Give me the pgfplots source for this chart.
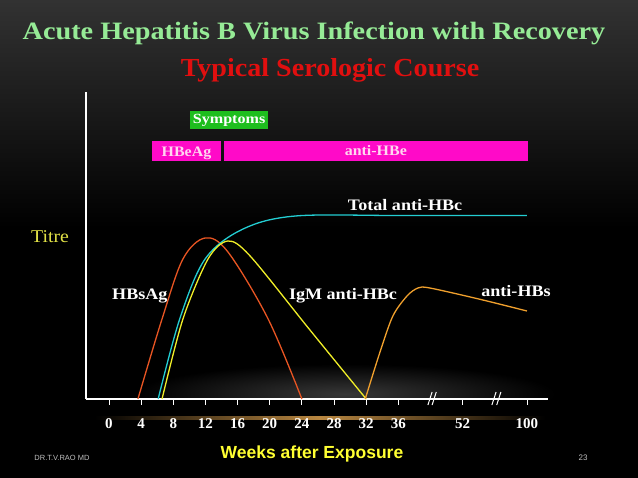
\documentclass[border=0pt]{standalone}
\usepackage{fontspec}
\setmainfont{Liberation Serif}
\setsansfont{Liberation Sans}
\usepackage{pgfplots}
\pgfplotsset{compat=1.18}
\definecolor{titlegreen}{RGB}{150,235,150}
\definecolor{subred}{RGB}{225,15,15}
\definecolor{hbsag}{RGB}{232,85,35}
\definecolor{totalc}{RGB}{35,205,210}
\definecolor{igm}{RGB}{240,238,40}
\definecolor{antihbs}{RGB}{240,160,45}
\definecolor{symgreen}{RGB}{30,190,30}
\definecolor{boxmag}{RGB}{255,10,200}
\definecolor{boxtext}{RGB}{255,215,240}
\definecolor{titreyel}{RGB}{225,225,70}
\definecolor{weeksyel}{RGB}{255,255,50}
\begin{document}
\begin{tikzpicture}
\useasboundingbox (0,0) rectangle (638pt,478pt);
\fill[black] (0,0) rectangle (638pt,478pt);
\shade[top color={rgb,255:red,50;green,50;blue,50}, bottom color=black] (0,250pt) rectangle (638pt,478pt);
\shade[inner color={rgb,255:red,55;green,55;blue,55}, outer color=black] (345pt,84pt) ellipse (210pt and 30pt);
\fill[black] (0,0) rectangle (638pt,78pt);
\shade[left color=black, right color=black, middle color={rgb,255:red,185;green,135;blue,65}] (95pt,58.5pt) rectangle (545pt,61.5pt);
\node[text=titlegreen, xscale=1.13, font=\bfseries\fontsize{25}{25}\selectfont] at (314pt,445pt) {Acute Hepatitis B Virus Infection with Recovery};
\node[text=subred, xscale=1.08, font=\bfseries\fontsize{26}{26}\selectfont] at (330pt,408pt) {Typical Serologic Course};
\node[text=titreyel, xscale=1.1, font=\fontsize{18}{18}\selectfont] at (50pt,241pt) {Titre};
\node[text=weeksyel, font=\sffamily\bfseries\fontsize{17.5}{17.5}\selectfont] at (312pt,24pt) {Weeks after Exposure};
\node[text={rgb,255:red,190;green,190;blue,190}, font=\sffamily\fontsize{7.5}{7.5}\selectfont] at (62pt,20pt) {DR.T.V.RAO MD};
\node[text={rgb,255:red,190;green,190;blue,190}, font=\sffamily\fontsize{8}{8}\selectfont] at (583pt,20pt) {23};
\begin{axis}[
  at={(86pt,79pt)}, anchor=south west,
  scale only axis, width=462pt, height=307pt,
  xmin=-0.715, xmax=13.655, ymin=0, ymax=307,
  axis lines=left,
  axis line style={-, white, line width=1.2pt},
  clip=false,
  xtick={0,1,2,3,4,5,6,7,8,9,11,13},
  xticklabels={0,4,8,12,16,20,24,28,32,36,52,100},
  ytick=\empty,
  tick align=outside, major tick length=6pt,
  tick style={white, line width=0.8pt},
  xticklabel style={text=white, font=\bfseries\fontsize{15}{15}\selectfont, yshift=-10pt},
]
% boxes
\addplot[fill=symgreen, draw=none] coordinates {(2.52,270) (4.95,270) (4.95,288) (2.52,288)} --cycle;
\addplot[fill=boxmag, draw=none] coordinates {(1.34,238) (3.48,238) (3.48,258) (1.34,258)} --cycle;
\addplot[fill=boxmag, draw=none] coordinates {(3.58,238) (13.03,238) (13.03,258) (3.58,258)} --cycle;
\node[text=white, xscale=1.15, font=\bfseries\fontsize{14}{14}\selectfont] at (axis cs:3.735,279) {Symptoms};
\node[text=boxtext, xscale=1.1, font=\bfseries\fontsize{14.5}{14.5}\selectfont] at (axis cs:2.41,246) {HBeAg};
\node[text=boxtext, xscale=1.1, font=\bfseries\fontsize{14.5}{14.5}\selectfont] at (axis cs:8.3,248) {anti-HBe};
% curves
\addplot[hbsag, line width=1.3pt, smooth, tension=0.55] coordinates {
 (0.90,0) (1.65,80) (2.30,140) (2.99,161) (3.70,147) (4.95,80) (6.0,0)};
\addplot[totalc, line width=1.3pt, smooth, tension=0.55] coordinates {
 (1.53,0) (2.20,80) (2.99,140) (4.17,170) (5.8,183) (9,183.5) (13.0,183.5)};
\addplot[igm, line width=1.3pt, smooth, tension=0.5] coordinates {
 (1.65,0) (2.30,80) (3.08,140) (3.70,158) (4.39,143) (6.2,71) (8.0,0)};
\addplot[antihbs, line width=1.3pt, smooth, tension=0.5] coordinates {
 (7.97,0) (8.43,47) (8.83,83) (9.27,103) (9.61,111) (9.98,111) (11.5,100) (13.0,88)};
% axis break marks
\addplot[white, line width=1pt] coordinates {(9.92,-6) (10.05,7)};
\addplot[white, line width=1pt] coordinates {(10.05,-6) (10.18,7)};
\addplot[white, line width=1pt] coordinates {(11.91,-6) (12.04,7)};
\addplot[white, line width=1pt] coordinates {(12.06,-6) (12.19,7)};
% labels
\node[text=white, xscale=1.13, font=\bfseries\fontsize{16}{16}\selectfont] at (axis cs:9.21,194) {Total anti-HBc};
\node[text=white, xscale=1.13, font=\bfseries\fontsize{16}{16}\selectfont] at (axis cs:0.96,103) {HBsAg};
\node[text=white, xscale=1.13, font=\bfseries\fontsize{16}{16}\selectfont] at (axis cs:7.28,103) {IgM anti-HBc};
\node[text=white, xscale=1.13, font=\bfseries\fontsize{16}{16}\selectfont] at (axis cs:12.66,108) {anti-HBs};
\end{axis}
\end{tikzpicture}
\end{document}
